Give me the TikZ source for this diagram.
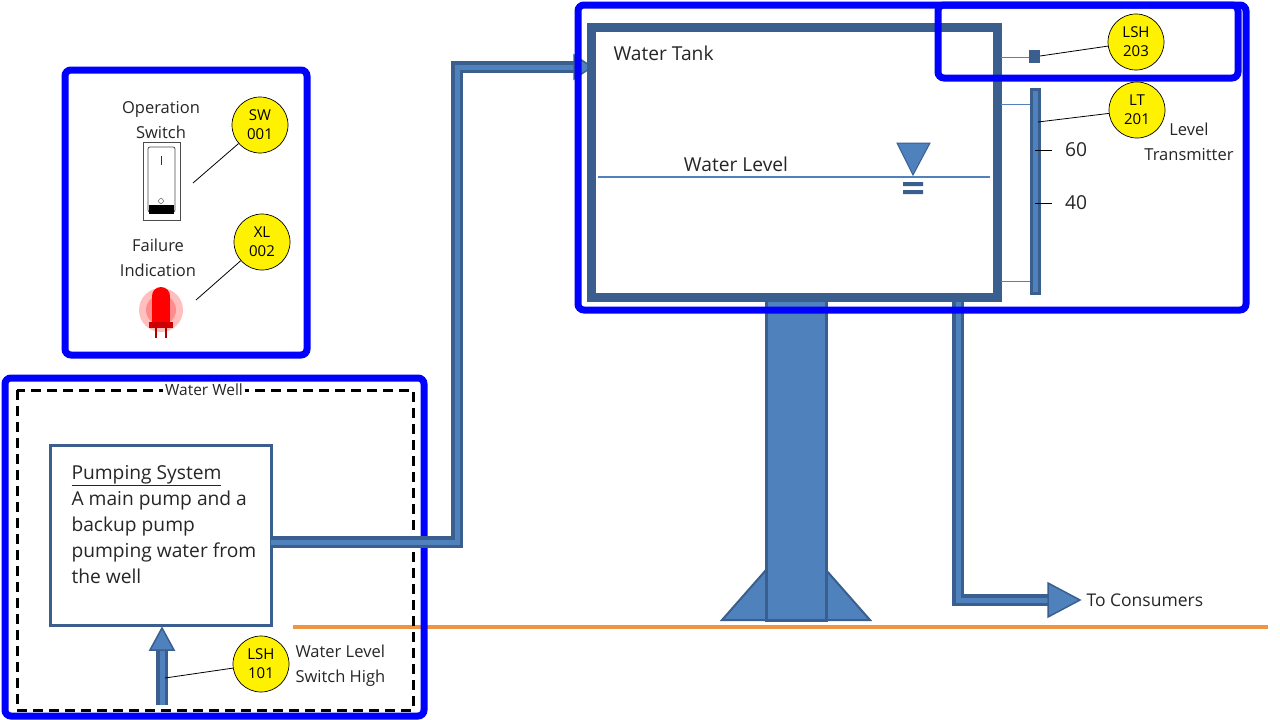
\documentclass[tikz,border=0pt]{standalone}
\usepackage{fontspec}
\setmainfont{Open Sans}
\begin{document}
\begin{tikzpicture}[x=1pt,y=-1pt,
  hl/.style={draw=blue,line width=7pt,rounded corners=6pt},
  dk/.style={draw=pdark,line width=3pt},
  bub/.style={circle,fill=yellow,draw=black,line width=0.7pt,minimum size=56pt,inner sep=0pt,align=center,font=\fontsize{15}{19}\selectfont},
  lead/.style={draw=black,line width=0.8pt},
  txt/.style={font=\fontsize{19.2}{23}\selectfont,text=black!85},
  sm/.style={font=\fontsize{16.5}{25}\selectfont,text=black!85,align=center}]
\definecolor{pdark}{HTML}{3A5F8E}
\definecolor{pmid}{HTML}{4F81BD}
\definecolor{orng}{HTML}{F0953F}
\useasboundingbox (0,0) rectangle (1280,720);
\fill[white] (0,0) rectangle (1280,720);
% ground
\draw[orng,line width=4pt] (293,627) -- (1268,627);
% control panel
\draw[hl] (65,70) rectangle (307,355);
\node[sm] (opsw) at (161,120) {Operation\\Switch};
\draw[black!70,line width=1pt] (143,142) rectangle (180,220);
\draw[black!70,line width=0.8pt,fill=white,rounded corners=2pt] (148,147) rectangle (175,212);
\fill[black] (149,205) rectangle (174,214);
\draw[black!80,line width=1pt] (161,156) -- (161,165);
\draw[black!80] (161,201) circle (2.5pt);
\coordinate (swp) at (193,183);
\node[bub] (sw) at (260,125) {SW\\001};
\draw[lead] (swp) -- (sw);
\node[sm] (fail) at (158,258) {Failure\\Indication};
\fill[red!25] (161,310) circle (22pt);
\fill[red!45] (161,310) circle (15pt);
\fill[red] (152,296) rectangle (170,324);
\fill[red] (152,296) arc (180:0:9pt);
\fill[red!80!black] (149,322) rectangle (173,328);
\draw[red!70!black,line width=2pt] (156,328) -- (156,338) (166,328) -- (166,338);
\coordinate (xlp) at (196,300);
\node[bub] (xl) at (262,242) {XL\\002};
\draw[lead] (xlp) -- (xl);
% well
\draw[hl] (5,378) rectangle (424,716);
\draw[black,line width=3pt,dash pattern=on 10pt off 6pt] (17,390) rectangle (413,710);
\node[fill=white,inner sep=2pt,font=\fontsize{15.5}{18}\selectfont,text=black!85] (well) at (204,390) {Water Well};
\node[dk,minimum width=221pt,minimum height=180pt,inner sep=0pt] (pump) at (160.5,535) {};
\node[txt,anchor=north west,align=left,font=\fontsize{19.2}{26}\selectfont] (ptxt) at (68,462) {\underline{Pumping System}\\A main pump and a\\backup pump\\pumping water from\\the well};
% pipes
\coordinate (pa) at (271,542);
\coordinate (pb) at (457,542);
\coordinate (pc) at (457,67);
\coordinate (pd) at (578,67);
\draw[pdark,line width=12pt] (pa) -- (pb) -- (pc) -- (pd);
\draw[pmid,line width=5pt] (pa) -- (pb) -- (pc) -- (pd);
\fill[pmid,draw=pdark,line width=1.5pt] (574,55) -- (592,67) -- (574,79) -- cycle;
% inlet arrow
\coordinate (ia) at (162,705);
\coordinate (ib) at (162,648);
\draw[pdark,line width=12pt] (ia) -- (ib);
\draw[pmid,line width=5pt] (ia) -- (ib);
\fill[pmid,draw=pdark,line width=1.5pt] (150,650) -- (162,628) -- (174,650) -- cycle;
\coordinate (lshp) at (165,678);
\node[bub] (lsh1) at (261,664) {LSH\\101};
\draw[lead] (lshp) -- (lsh1);
\node[sm,align=left,anchor=west] (wls) at (292,666) {Water Level\\Switch High};
% stand
\fill[pmid,draw=pdark,line width=2pt] (722,620) -- (766,570) -- (826,570) -- (870,620) -- cycle;
\fill[pmid,draw=pdark,line width=3pt] (766,300) rectangle (826,620);
% outlet
\coordinate (oa) at (958,297);
\coordinate (ob) at (958,600);
\coordinate (oc) at (1052,600);
\draw[pdark,line width=12pt] (oa) -- (ob) -- (oc);
\draw[pmid,line width=5pt] (oa) -- (ob) -- (oc);
\fill[pmid,draw=pdark,line width=1.5pt] (1048,583) -- (1080,600) -- (1048,617) -- cycle;
\node[sm,anchor=west,font=\fontsize{17.5}{20}\selectfont] (cons) at (1083,600) {To Consumers};
% tank
\draw[hl] (578,5) rectangle (1246,310);
\node[draw=pdark,line width=9pt,minimum width=406pt,minimum height=270pt,inner sep=0pt] (tank) at (794,162) {};
\node[txt,anchor=west] (tt) at (610,53) {Water Tank};
\draw[pmid,line width=2.5pt] (598,177) -- (990,177);
\node[txt] (wl) at (736,164) {Water Level};
\fill[pmid,draw=pdark,line width=1pt] (897,143) -- (930,143) -- (913,175) -- cycle;
\fill[pdark] (903,182) rectangle (923,186) (903,190) rectangle (923,194);
% level instruments
\draw[hl] (938,5) rectangle (1238,78);
\draw[pmid,line width=1pt] (1001,57) -- (1030,57) (1001,104) -- (1031,104) (1001,281) -- (1031,281);
\fill[pdark] (1029,50) rectangle (1040,63);
\fill[pmid,draw=pdark,line width=3pt] (1031,89) rectangle (1039,293);
\draw[black,line width=1pt] (1035,150) -- (1052,150) (1035,203) -- (1052,203);
\node[txt] (n60) at (1076,150) {60};
\node[txt] (n40) at (1076,203) {40};
\coordinate (lsp) at (1040,56);
\node[bub] (lsh2) at (1136,42) {LSH\\203};
\draw[lead] (lsp) -- (lsh2);
\coordinate (ltp) at (1038,122);
\node[bub] (lt) at (1137,110) {LT\\201};
\draw[lead] (ltp) -- (lt);
\node[sm] (ltx) at (1189,142) {Level\\Transmitter};
\end{tikzpicture}
\end{document}
